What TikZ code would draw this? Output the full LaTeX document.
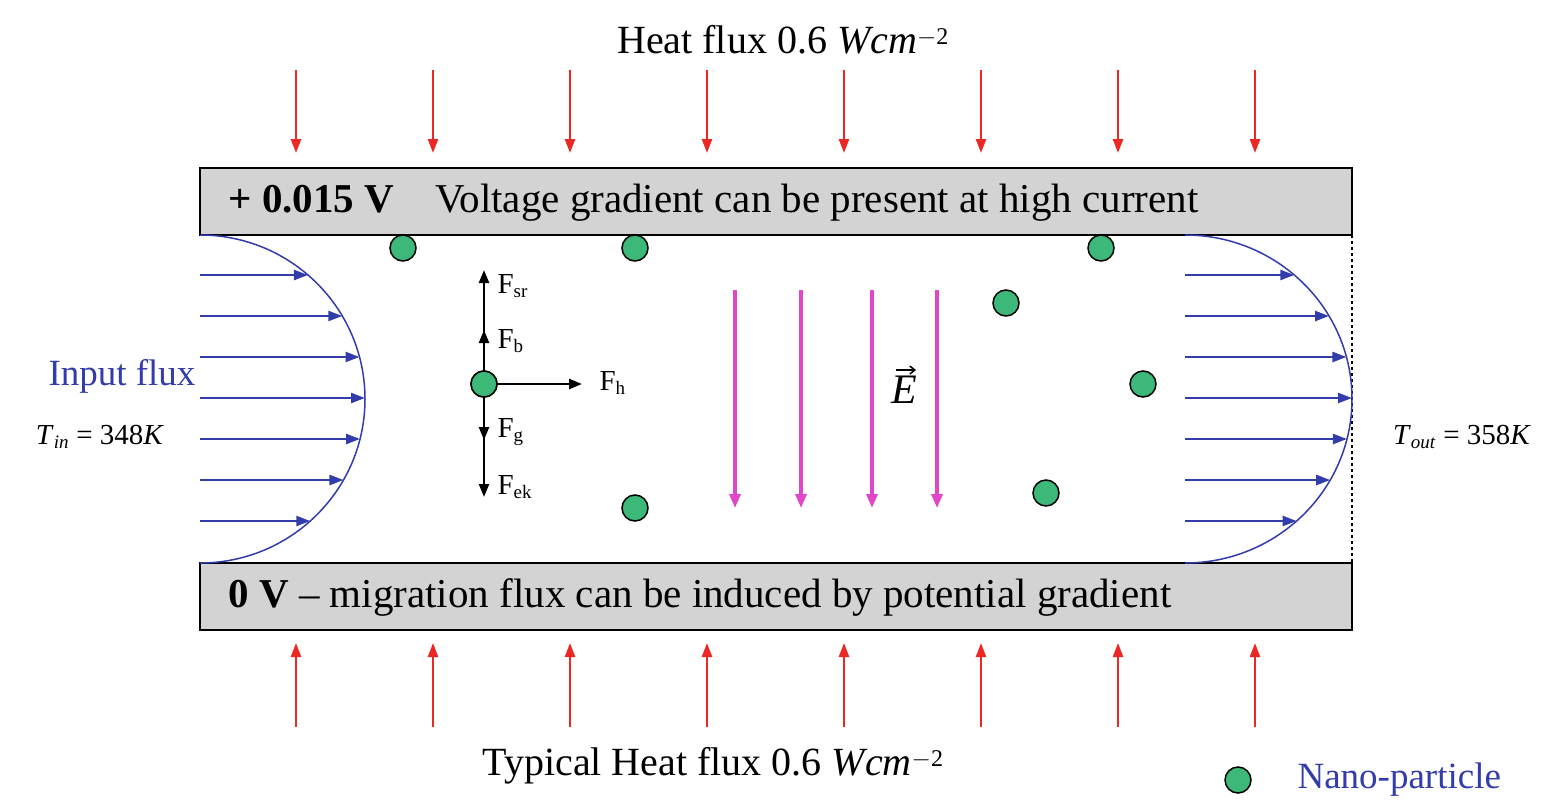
\documentclass[tikz,border=0pt]{standalone}
\usepackage{fontspec}
\setmainfont{Liberation Serif}
\usetikzlibrary{arrows.meta}
\definecolor{barg}{RGB}{211,211,211}
\definecolor{flowb}{RGB}{50,60,170}
\definecolor{heatr}{RGB}{235,40,35}
\definecolor{pinkE}{RGB}{225,70,200}
\definecolor{npg}{RGB}{60,185,120}
\tikzset{
 bar/.style={draw=black,fill=barg,line width=1.5pt},
 heat/.style={heatr,line width=2.4pt,-{Triangle[length=14pt,width=10pt]}},
 flow/.style={flowb,line width=2.4pt,-{Triangle[length=14pt,width=10pt]}},
 efield/.style={pinkE,line width=3.2pt,-{Triangle[length=14pt,width=11pt]}},
 force/.style={black,line width=2.4pt,-{Triangle[length=13pt,width=10pt]}},
 np/.style={circle,draw=black,fill=npg,line width=1.5pt,minimum size=26pt,inner sep=0pt},
 big/.style={font=\fontsize{41}{46}\selectfont},
 med/.style={font=\fontsize{40}{46}\selectfont},
 lab/.style={font=\fontsize{37}{42}\selectfont},
 fl/.style={font=\fontsize{29}{34}\selectfont}
}
\newcommand{\fsub}[1]{\textsubscript{\fontsize{19}{22}\selectfont #1}}
\begin{document}
\begin{tikzpicture}[x=1pt,y=-1pt]
\useasboundingbox (0,0) rectangle (1553,801);
% bars
\draw[bar] (200,168) rectangle (1352,235);
\draw[bar] (200,563) rectangle (1352,630);
\node[big,anchor=west] at (225,203) {\textbf{+ 0.015 V}\quad Voltage gradient can be present at high current};
\node[big,anchor=west] at (225,597) {\textbf{0 V} -- migration flux can be induced by potential gradient};
\draw[dashed,line width=2pt] (1352,235) -- (1352,563);
% profiles
\draw[flowb,line width=1.5pt] (200,235) arc[start angle=-90,end angle=90,x radius=165,y radius=164];
\draw[flowb,line width=1.5pt] (1185,235) arc[start angle=-90,end angle=90,x radius=167,y radius=164];
\foreach \y in {275,316,357,398,439,480,521}{
 \pgfmathsetmacro{\xa}{200+165*sqrt(1-((\y-399)/164)^2)}
 \pgfmathsetmacro{\xb}{1185+167*sqrt(1-((\y-399)/164)^2)}
 \draw[flow] (200,\y) -- (\xa,\y);
 \draw[flow] (1185,\y) -- (\xb,\y);
}
% heat arrows
\foreach \x in {296,433,570,707,844,981,1118,1255}{
 \draw[heat] (\x,70) -- (\x,153);
 \draw[heat] (\x,727) -- (\x,643);
}
\node[med] (ht) at (783,40) {Heat flux 0.6 \textit{Wcm}\textsuperscript{\fontsize{24}{26}\selectfont $-$2}};
\node[med] (hb) at (713,766) {Typical Heat flux 0.6 \textit{Wcm}\textsuperscript{\fontsize{24}{26}\selectfont $-$2}};
% E field
\foreach \x in {735,801,872,937}{\draw[efield] (\x,290) -- (\x,508);}
\node[font=\fontsize{42}{46}\selectfont\itshape,inner sep=0pt] (E) at (904,390) {E};
\draw[line width=1.5pt,-{Straight Barb[length=5pt,width=8pt]}] ([xshift=-8pt,yshift=6pt]E.north) -- ([xshift=12pt,yshift=6pt]E.north);
% forces
\node[np] (p0) at (484,384) {};
\coordinate (fsr) at (484,270);
\coordinate (fek) at (484,497);
\coordinate (fh) at (582,384);
\draw[force] (p0.center) -- (fsr);
\draw[force] (p0.center) -- (484,330);
\draw[force] (p0.center) -- (fek);
\draw[force] (p0.center) -- (484,440);
\draw[force] (p0.center) -- (fh);
\node[np] at (484,384) {};
\node[fl,anchor=west] at (494,286) {F\fsub{sr}};
\node[fl,anchor=west] at (494,341) {F\fsub{b}};
\node[fl,anchor=west] at (596,383) {F\fsub{h}};
\node[fl,anchor=west] at (494,432) {F\fsub{g}};
\node[fl,anchor=west] at (494,487) {F\fsub{ek}};
% particles
\foreach \p/\q in {403/248,635/248,1101/248,1006/303,1143/384,1046/493,635/508}{\node[np] at (\p,\q) {};}
\node[np] (leg) at (1238,780) {};
\node[lab,flowb,anchor=west] at (1294,780) {Nano-particle};
% labels
\node[lab,flowb] at (122,376) {Input flux};
\node[fl] at (100,437) {\textit{T}\fsub{\textit{in}} = 348\textit{K}};
\node[fl] at (1462,437) {\textit{T}\fsub{\textit{out}} = 358\textit{K}};
\end{tikzpicture}
\end{document}
